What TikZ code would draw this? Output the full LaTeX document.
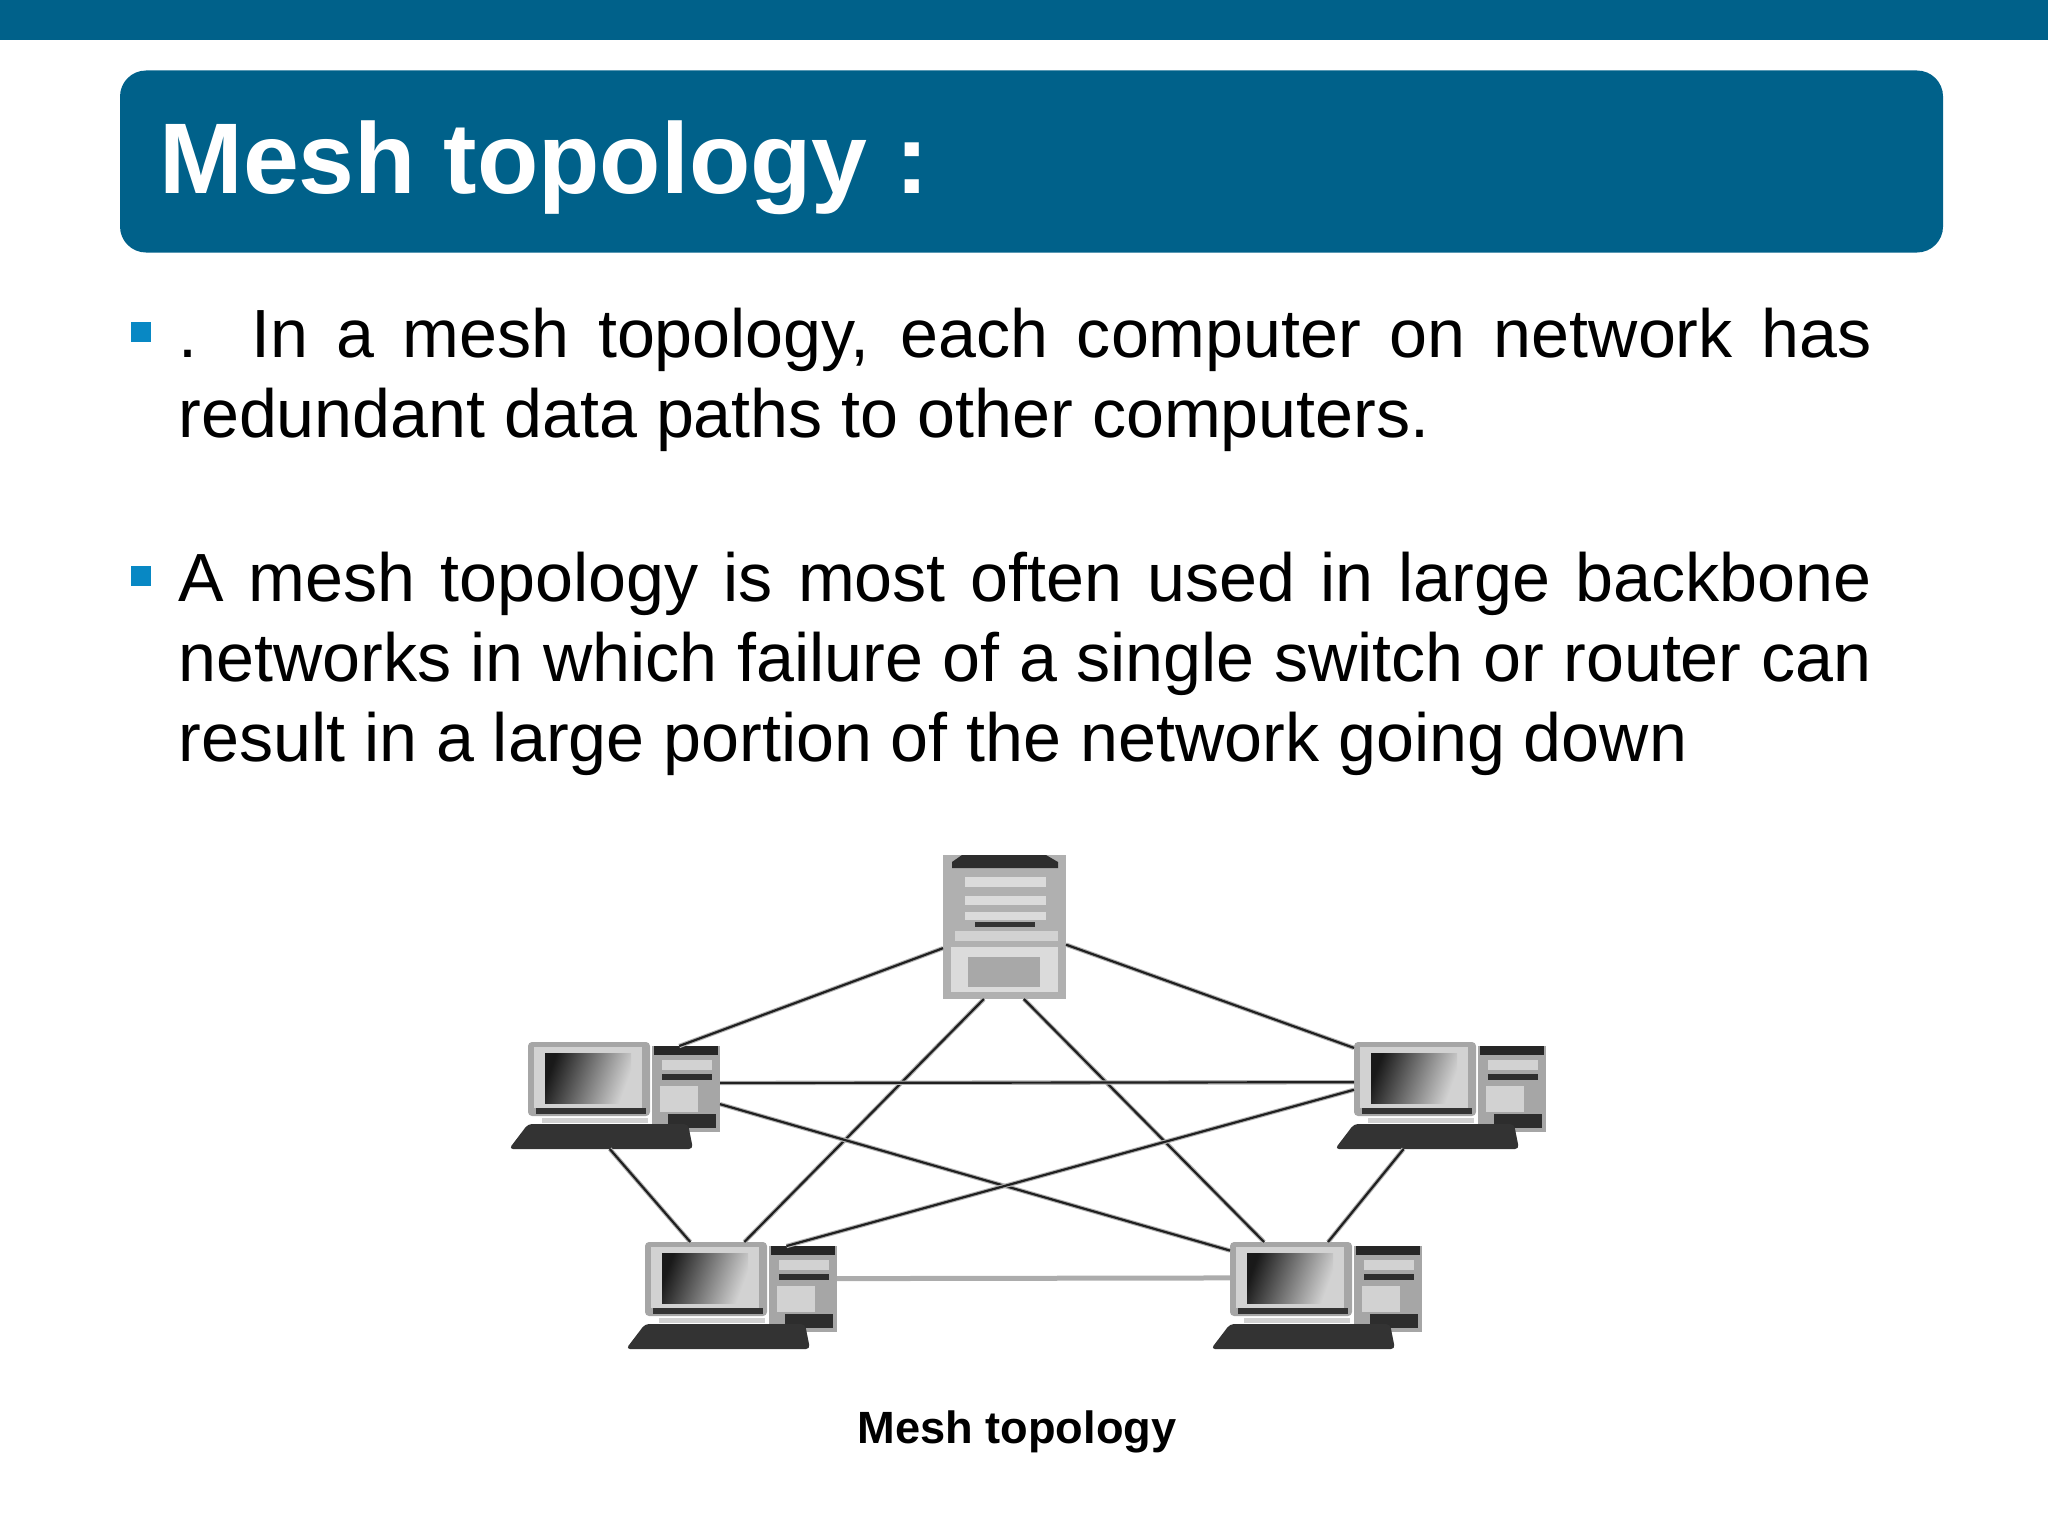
\documentclass[tikz,border=0pt]{standalone}
\usepackage{fontspec}
\setmainfont{Liberation Sans}
\definecolor{barblue}{RGB}{0,97,138}
\definecolor{dotblue}{RGB}{8,136,196}
\tikzset{
  bodytext/.style={anchor=north west,inner sep=0pt,text width=846.5pt,align=justify,font=\fontsize{34.1}{40}\selectfont},
  bulletmark/.style={fill=dotblue,inner sep=0pt,minimum size=10pt},
  monbox/.style={fill=gray!70,rounded corners=2pt,inner sep=0pt,outer sep=0pt,minimum width=61pt,minimum height=37pt},
  towerbox/.style={fill=gray!70,inner sep=0pt,outer sep=0pt,minimum width=34pt,minimum height=43pt},
  keybox/.style={inner sep=0pt,outer sep=0pt,minimum width=92pt,minimum height=13pt},
  srvbox/.style={fill=gray!62,inner sep=0pt,outer sep=0pt,minimum width=61.5pt,minimum height=72pt},
  meshline/.style={draw=gray!25!black,line width=1.1pt,preaction={draw=gray!60,line width=2.2pt}}
}
\newcommand{\pcnode}[3]{
  \begin{scope}[shift={(#2,#3)}]
    \node (#1mon) [monbox] at (61,37) {};
    \node (#1box) [towerbox] at (158,47) {};
    \node (#1kbd) [keybox] at (73,94) {};
    \fill [gray!35] (6,5) rectangle (114,66);
    \shade [left color=black!90,right color=gray!35,shading angle=70] (17,11) rectangle (103,61);
    \fill [gray!40!black] (8,66) rectangle (118,72);
    \fill [gray!35] (14,76) rectangle (120,81);
    \fill [black!85] (126,4) rectangle (190,13);
    \fill [gray!35] (134,18) rectangle (184,28);
    \fill [gray!35!black] (134,32) rectangle (184,38);
    \fill [gray!35] (132,44) rectangle (170,70);
    \fill [gray!35!black] (140,72) rectangle (188,86);
    \fill [black!80,rounded corners=2pt] (-19,107) -- (165,107) -- (160,82) -- (0,82) -- cycle;
  \end{scope}
}
\begin{document}
\begin{tikzpicture}[x=0.5pt,y=-0.5pt]
\useasboundingbox (0,0) rectangle (2048,1536);
\fill [barblue] (0,0) rectangle (2048,40);
\node (titlebar) [fill=barblue,rounded corners=13pt,inner sep=0pt,minimum width=911.5pt,minimum height=91pt] at (1031.5,161.5) {};
\node (title) [anchor=base west,inner sep=0pt,text=white,font=\fontsize{50.2}{60}\selectfont\bfseries] at (159,193) {Mesh topology :};
\node (dotA) [bulletmark] at (141,332) {};
\node (paraA) [bodytext] at (178,308) {. In a mesh topology, each computer on network has\linebreak redundant data paths to other computers.};
\node (dotB) [bulletmark] at (141,576) {};
\node (paraB) [bodytext] at (178,552) {A mesh topology is most often used in large backbone networks in which failure of a single switch or router can result in a large portion of the network going down};
\node (srv) [srvbox] at (1004.5,927) {};
\fill [gray!35!black] (952,862) -- (962,855) -- (1046,855) -- (1058,862) -- (1058,868) -- (952,868) -- cycle;
\fill [gray!28] (965,877) rectangle (1046,887);
\fill [gray!28] (965,896) rectangle (1046,905);
\fill [gray!28] (965,912) rectangle (1046,920);
\fill [black!80] (975,922) rectangle (1035,927);
\fill [gray!35] (955,931) rectangle (1058,941);
\fill [gray!28] (951,947) rectangle (1058,992);
\fill [gray!68] (968,957) rectangle (1040,987);
\pcnode{pcW}{528}{1042}
\pcnode{pcE}{1354}{1042}
\pcnode{pcSW}{645}{1242}
\pcnode{pcSE}{1230}{1242}
\draw [meshline] (srv.199.7) -- (pcWbox.99.2);
\draw [meshline] (srv.254.8) -- (pcSWmon.44.2);
\draw [meshline] (srv.285.9) -- (pcSEmon.126.1);
\draw [meshline] (srv.344.7) -- (pcEmon.153.8);
\draw [meshline] (pcWbox.10) -- (pcEmon.183.75);
\draw [meshline] (pcWbox.336.2) -- (pcSEmon.155.3);
\draw [meshline] (pcWkbd.304.7) -- (pcSWmon.113.4);
\draw [meshline] (pcEmon.190.2) -- (pcSWbox.111.6);
\draw [meshline] (pcEkbd.209.5) -- (pcSEmon.45.8);
\draw [draw=gray!65,line width=2.5pt] (pcSWbox.17.9) -- (pcSEmon.179);
\node (caption) [anchor=base,inner sep=0pt,font=\fontsize{22.6}{27}\selectfont\bfseries] at (1017,1443) {Mesh topology};
\end{tikzpicture}
\end{document}
